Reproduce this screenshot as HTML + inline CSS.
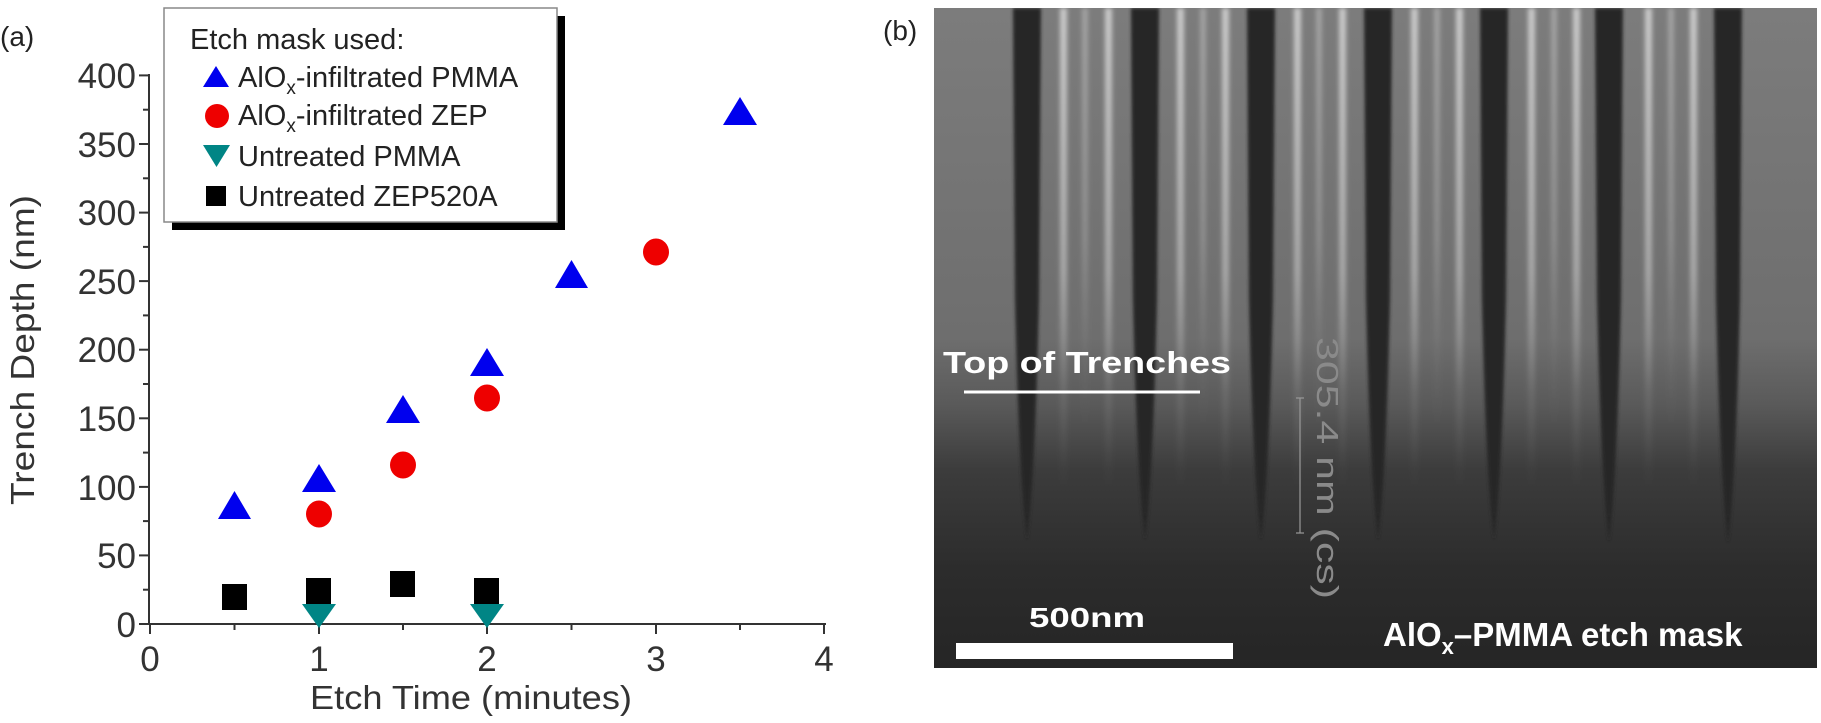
<!DOCTYPE html>
<html><head><meta charset="utf-8"><style>
html,body{margin:0;padding:0;background:#fff;}
svg{display:block;}
text{font-family:"Liberation Sans",sans-serif;}
</style></head><body>
<svg width="1821" height="723" viewBox="0 0 1821 723" xmlns="http://www.w3.org/2000/svg">
<defs>
<linearGradient id="bg" x1="0" y1="0" x2="0" y2="1">
<stop offset="0" stop-color="#7c7c7c"/>
<stop offset="0.5" stop-color="#6e6e6e"/>
<stop offset="0.6" stop-color="#5a5a5a"/>
<stop offset="0.7" stop-color="#3c3c3c"/>
<stop offset="0.85" stop-color="#2c2c2c"/>
<stop offset="1" stop-color="#252525"/>
</linearGradient>
<linearGradient id="ridge" x1="0" y1="0" x2="0" y2="1">
<stop offset="0" stop-color="#fff" stop-opacity="0.6"/>
<stop offset="0.55" stop-color="#fff" stop-opacity="0.38"/>
<stop offset="0.8" stop-color="#fff" stop-opacity="0.08"/>
<stop offset="1" stop-color="#fff" stop-opacity="0"/>
</linearGradient>
<filter id="bl"><feGaussianBlur stdDeviation="2.5"/></filter>
<filter id="bl2"><feGaussianBlur stdDeviation="1.5"/></filter>
</defs>

<text x="0" y="46" font-size="28" fill="#222">(a)</text>

<g stroke="#333" stroke-width="2" fill="none">
<line x1="149" y1="74" x2="149" y2="625"/>
<line x1="148" y1="624" x2="826" y2="624"/>
<line x1="139" y1="624" x2="149" y2="624"/>
<line x1="139" y1="555.4" x2="149" y2="555.4"/>
<line x1="139" y1="486.9" x2="149" y2="486.9"/>
<line x1="139" y1="418.3" x2="149" y2="418.3"/>
<line x1="139" y1="349.7" x2="149" y2="349.7"/>
<line x1="139" y1="281.1" x2="149" y2="281.1"/>
<line x1="139" y1="212.6" x2="149" y2="212.6"/>
<line x1="139" y1="144" x2="149" y2="144"/>
<line x1="139" y1="75.4" x2="149" y2="75.4"/>
<line x1="143" y1="589.7" x2="149" y2="589.7"/>
<line x1="143" y1="521.1" x2="149" y2="521.1"/>
<line x1="143" y1="452.6" x2="149" y2="452.6"/>
<line x1="143" y1="384" x2="149" y2="384"/>
<line x1="143" y1="315.4" x2="149" y2="315.4"/>
<line x1="143" y1="246.9" x2="149" y2="246.9"/>
<line x1="143" y1="178.3" x2="149" y2="178.3"/>
<line x1="143" y1="109.7" x2="149" y2="109.7"/>
<line x1="150" y1="624" x2="150" y2="634"/>
<line x1="319" y1="624" x2="319" y2="634"/>
<line x1="487" y1="624" x2="487" y2="634"/>
<line x1="656" y1="624" x2="656" y2="634"/>
<line x1="824" y1="624" x2="824" y2="634"/>
<line x1="234.5" y1="624" x2="234.5" y2="630"/>
<line x1="403" y1="624" x2="403" y2="630"/>
<line x1="571.5" y1="624" x2="571.5" y2="630"/>
<line x1="740" y1="624" x2="740" y2="630"/>
</g>
<g font-size="35" fill="#333" text-anchor="end">
<text x="136" y="637">0</text>
<text x="136" y="568">50</text>
<text x="136" y="500">100</text>
<text x="136" y="431">150</text>
<text x="136" y="362">200</text>
<text x="136" y="294">250</text>
<text x="136" y="225">300</text>
<text x="136" y="157">350</text>
<text x="136" y="88">400</text>
</g>
<g font-size="35" fill="#333" text-anchor="middle">
<text x="150" y="671">0</text>
<text x="319" y="671">1</text>
<text x="487" y="671">2</text>
<text x="656" y="671">3</text>
<text x="824" y="671">4</text>
</g>
<text x="471" y="709" font-size="33" fill="#333" text-anchor="middle" textLength="322" lengthAdjust="spacingAndGlyphs">Etch Time (minutes)</text>
<text transform="translate(34,350) rotate(-90)" font-size="33" fill="#333" text-anchor="middle" textLength="310" lengthAdjust="spacingAndGlyphs">Trench Depth (nm)</text>

<g fill="#000">
<rect x="222" y="584" width="25" height="26"/>
<rect x="306" y="578" width="25" height="26"/>
<rect x="390" y="571" width="25" height="26"/>
<rect x="474" y="578" width="25" height="26"/>
</g>
<g fill="#008585">
<polygon points="302,604 336,604 319,628"/>
<polygon points="470,604 504,604 487,628"/>
</g>
<g fill="#0000ee">
<polygon points="234.5,491 251,519 218,519"/>
<polygon points="319,464 336,492 302,492"/>
<polygon points="403,395 420,423 386,423"/>
<polygon points="487,348 504,376 470,376"/>
<polygon points="571.5,260 588,288 555,288"/>
<polygon points="740,97 757,125 723,125"/>
</g>
<g fill="#ee0000">
<ellipse cx="319" cy="514" rx="13" ry="13.5"/>
<ellipse cx="403" cy="465" rx="13" ry="13.5"/>
<ellipse cx="487" cy="398" rx="13" ry="13.5"/>
<ellipse cx="656" cy="252" rx="13" ry="13.5"/>
</g>

<rect x="172" y="16" width="393" height="214" fill="#000"/>
<rect x="164" y="8" width="393" height="214" fill="#fff" stroke="#888" stroke-width="1.5"/>
<g font-size="29" fill="#222">
<text x="190" y="49">Etch mask used:</text>
<text x="238" y="87">AlO<tspan font-size="19" dy="7">x</tspan><tspan dy="-7">-infiltrated PMMA</tspan></text>
<text x="238" y="125">AlO<tspan font-size="19" dy="7">x</tspan><tspan dy="-7">-infiltrated ZEP</tspan></text>
<text x="238" y="166">Untreated PMMA</text>
<text x="238" y="206">Untreated ZEP520A</text>
</g>
<polygon points="216,66 229,87 203,87" fill="#0000ee"/>
<circle cx="217" cy="116" r="12" fill="#ee0000"/>
<polygon points="203,145 230,145 216.5,167" fill="#008585"/>
<rect x="206" y="186" width="20" height="20" fill="#000"/>

<text x="883" y="40" font-size="28" fill="#222">(b)</text>
<svg x="934" y="8" width="883" height="660" viewBox="934 8 883 660">
<rect x="934" y="8" width="883" height="660" fill="url(#bg)"/>
<g filter="url(#bl)" fill="url(#ridge)">
<rect x="1060" y="8" width="7" height="480"/>
<rect x="1105" y="8" width="7" height="480"/>
<rect x="1177" y="8" width="7" height="480"/>
<rect x="1222" y="8" width="7" height="480"/>
<rect x="1294" y="8" width="7" height="480"/>
<rect x="1339" y="8" width="7" height="480"/>
<rect x="1411" y="8" width="7" height="480"/>
<rect x="1456" y="8" width="7" height="480"/>
<rect x="1528" y="8" width="7" height="480"/>
<rect x="1573" y="8" width="7" height="480"/>
<rect x="1645" y="8" width="7" height="480"/>
<rect x="1690" y="8" width="7" height="480"/>
<rect x="1082" y="8" width="6" height="420" opacity="0.5"/>
<rect x="1200" y="8" width="6" height="420" opacity="0.5"/>
<rect x="1316" y="8" width="6" height="420" opacity="0.5"/>
<rect x="1434" y="8" width="6" height="420" opacity="0.5"/>
<rect x="1551" y="8" width="6" height="420" opacity="0.5"/>
<rect x="1668" y="8" width="6" height="420" opacity="0.5"/>
</g>
<g fill="#282828" filter="url(#bl2)">
<path d="M1013,8 L1041,8 L1039,300 Q1035,480 1027,540 Q1019,480 1015,300 Z"/>
<path d="M1131,8 L1159,8 L1157,300 Q1153,480 1145,540 Q1137,480 1133,300 Z"/>
<path d="M1247,8 L1275,8 L1273,300 Q1269,480 1261,540 Q1253,480 1249,300 Z"/>
<path d="M1364,8 L1392,8 L1390,300 Q1386,480 1378,540 Q1370,480 1366,300 Z"/>
<path d="M1480,8 L1508,8 L1506,300 Q1502,480 1494,540 Q1486,480 1482,300 Z"/>
<path d="M1595,8 L1623,8 L1621,300 Q1617,480 1609,542 Q1601,480 1597,300 Z"/>
<path d="M1714,8 L1742,8 L1740,300 Q1736,480 1728,543 Q1720,480 1716,300 Z"/>
</g>
</svg>
<text x="943" y="373" font-size="31" font-weight="bold" fill="#fff" textLength="288" lengthAdjust="spacingAndGlyphs">Top of Trenches</text>
<line x1="964" y1="392" x2="1200" y2="392" stroke="#fff" stroke-width="3"/>
<line x1="1300" y1="398" x2="1300" y2="533" stroke="#999" stroke-width="1.2"/>
<line x1="1296" y1="398" x2="1304" y2="398" stroke="#999" stroke-width="1.2"/>
<line x1="1296" y1="533" x2="1304" y2="533" stroke="#999" stroke-width="1.2"/>
<text transform="translate(1317,337) rotate(90)" font-size="31" fill="#8a8a8a" textLength="262" lengthAdjust="spacingAndGlyphs">305.4 nm (cs)</text>
<text x="1029" y="627" font-size="28" font-weight="bold" fill="#fff" textLength="116" lengthAdjust="spacingAndGlyphs">500nm</text>
<rect x="956" y="643" width="277" height="16" fill="#fff"/>
<text x="1383" y="646" font-size="33" font-weight="bold" fill="#fff">AlO<tspan font-size="22" dy="8">x</tspan><tspan dy="-8">–PMMA etch mask</tspan></text>
</svg>
</body></html>
